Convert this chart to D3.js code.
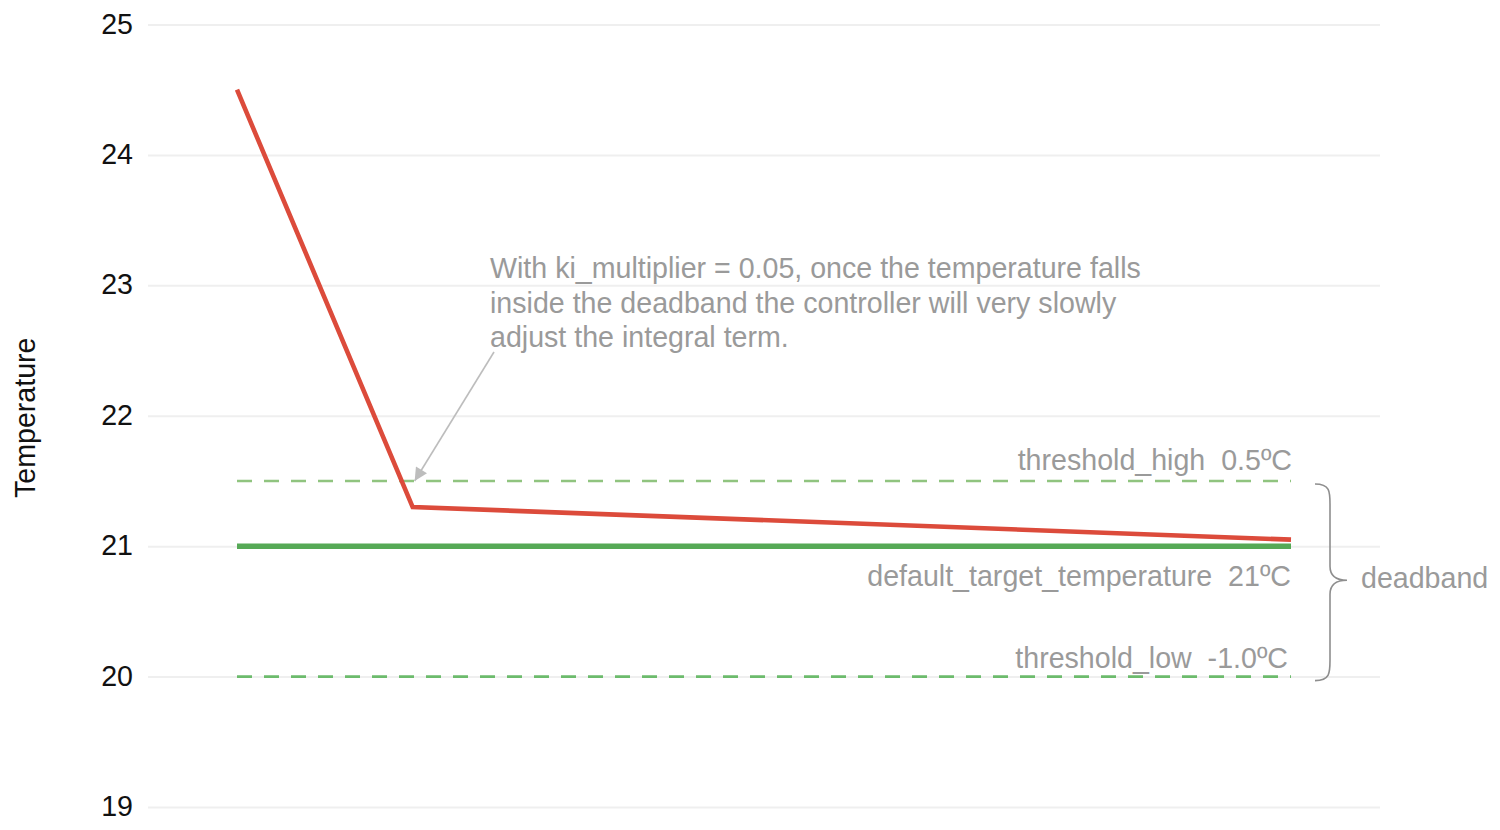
<!DOCTYPE html>
<html><head><meta charset="utf-8">
<script src="https://cdn.jsdelivr.net/npm/d3@7/dist/d3.min.js"></script>
<style>
html,body{margin:0;padding:0;background:#fff;}
text{font-family:"Liberation Sans",Arial,Helvetica,sans-serif;white-space:pre;}
</style></head>
<body>
<svg id="chart" width="1500" height="830"></svg>
<script>
// ---- data ----
const timeSteps = [0, 1, 6];
const temperatureValues = [24.5, 21.3, 21.05];
const targetTemperature = 21;
const thresholdHigh = 0.5;
const thresholdLow = -1.0;
const yTicks = [19, 20, 21, 22, 23, 24, 25];
const yTitle = "Temperature";
const labelHigh = "threshold_high  0.5ºC";
const labelTarget = "default_target_temperature  21ºC";
const labelLow = "threshold_low  -1.0ºC";
const labelBand = "deadband";
const annotationLines = [
  "With ki_multiplier = 0.05, once the temperature falls",
  "inside the deadband the controller will very slowly",
  "adjust the integral term."
];

// ---- layout ----
const FS = 28.6;
const svg = d3.select("#chart");
const x = d3.scaleLinear().domain([0, 6]).range([237, 1291]);
const y = d3.scaleLinear().domain([19, 25]).range([807, 24.5]);
const gridX0 = 148, gridX1 = 1380;

// grid + y axis
const yAxis = d3.axisLeft(y).tickValues(yTicks).tickFormat(d3.format("d"))
  .tickSize(-(gridX1 - gridX0)).tickPadding(15);
const gAxis = svg.append("g").attr("transform", `translate(${gridX0},0)`).call(yAxis);
gAxis.select(".domain").remove();
gAxis.selectAll(".tick line").attr("stroke", "#efefef").attr("stroke-width", 2);
gAxis.selectAll(".tick text").attr("fill", "#111").attr("font-size", FS)
  .attr("font-family", '"Liberation Sans", Arial, sans-serif').attr("dy", "0.3em");

// y title
svg.append("text")
  .attr("transform", `translate(35,${y(22) + 2}) rotate(-90)`)
  .attr("text-anchor", "middle").attr("font-size", FS).attr("fill", "#111")
  .text(yTitle);

const xs = d3.extent(timeSteps);

// threshold dashed lines
svg.append("line")
  .attr("x1", x(xs[0])).attr("x2", x(xs[1]))
  .attr("y1", y(targetTemperature + thresholdHigh)).attr("y2", y(targetTemperature + thresholdHigh))
  .attr("stroke", "#90c47f").attr("stroke-width", 2.4).attr("stroke-dasharray", "15,12");
svg.append("line")
  .attr("x1", x(xs[0])).attr("x2", x(xs[1]))
  .attr("y1", y(targetTemperature + thresholdLow)).attr("y2", y(targetTemperature + thresholdLow))
  .attr("stroke", "#6cbb6c").attr("stroke-width", 2.8).attr("stroke-dasharray", "15,12");

// target line
svg.append("line")
  .attr("x1", x(xs[0])).attr("x2", x(xs[1]))
  .attr("y1", y(targetTemperature)).attr("y2", y(targetTemperature))
  .attr("stroke", "#56a956").attr("stroke-width", 5.5);

// temperature line
const line = d3.line().x((d, i) => x(timeSteps[i])).y(d => y(d));
svg.append("path").datum(temperatureValues)
  .attr("d", line).attr("fill", "none")
  .attr("stroke", "#dc4b3b").attr("stroke-width", 4.6).attr("stroke-linejoin", "miter");

// labels
const gray = "#9a9a9a";
svg.append("text").attr("x", x(xs[1]) + 1).attr("y", y(targetTemperature + thresholdHigh) - 11)
  .attr("text-anchor", "end").attr("font-size", FS).attr("fill", gray).text(labelHigh);
svg.append("text").attr("x", x(xs[1])).attr("y", y(targetTemperature) + 40)
  .attr("text-anchor", "end").attr("font-size", FS).attr("fill", gray).text(labelTarget);
svg.append("text").attr("x", x(xs[1]) - 3).attr("y", y(targetTemperature + thresholdLow) - 9)
  .attr("text-anchor", "end").attr("font-size", FS).attr("fill", gray).text(labelLow);

// brace
const bTop = y(targetTemperature + thresholdHigh) + 3;
const bBot = y(targetTemperature + thresholdLow) + 4;
const bMid = (bTop + bBot) / 2 - 2;
const bx0 = 1315, bx1 = 1330, bTip = 1347;
const brace = `M${bx0},${bTop} C${bx1},${bTop} ${bx1},${bTop + 8} ${bx1},${bTop + 20}
  L${bx1},${bMid - 14} C${bx1},${bMid - 4} ${bx1 + 6},${bMid} ${bTip},${bMid}
  C${bx1 + 6},${bMid} ${bx1},${bMid + 4} ${bx1},${bMid + 14}
  L${bx1},${bBot - 20} C${bx1},${bBot - 8} ${bx1},${bBot} ${bx0},${bBot}`;
svg.append("path").attr("d", brace).attr("fill", "none")
  .attr("stroke", "#8e8e8e").attr("stroke-width", 1.6);
svg.append("text").attr("x", 1361).attr("y", bMid + 8)
  .attr("font-size", FS).attr("fill", gray).text(labelBand);

// annotation
const ann = svg.append("text").attr("x", 490).attr("y", 278)
  .attr("font-size", FS).attr("fill", gray);
annotationLines.forEach((t, i) => {
  ann.append("tspan").attr("x", 490).attr("y", 278 + i * 34.5).text(t);
});

// arrow
svg.append("defs").append("marker").attr("id", "ah")
  .attr("viewBox", "0 0 10 10").attr("refX", 10).attr("refY", 5)
  .attr("markerWidth", 16).attr("markerHeight", 13).attr("markerUnits", "userSpaceOnUse")
  .attr("orient", "auto")
  .append("path").attr("d", "M0,0 L10,5 L0,10 Z").attr("fill", "#bdbdbd");
svg.append("line").attr("x1", 494).attr("y1", 352)
  .attr("x2", x(timeSteps[1]) + 2).attr("y2", y(targetTemperature + thresholdHigh))
  .attr("stroke", "#bdbdbd").attr("stroke-width", 1.6).attr("marker-end", "url(#ah)");
</script>
</body></html>
